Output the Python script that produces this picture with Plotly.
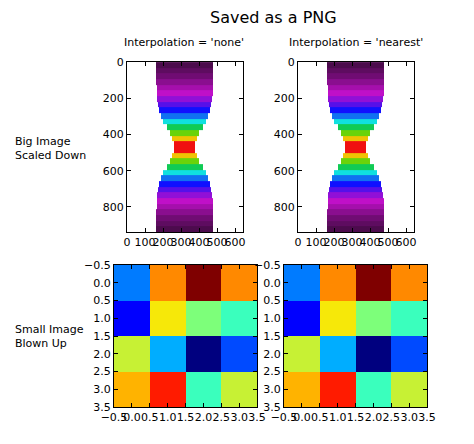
import plotly.graph_objs as go

# Big image: one value and half-width per horizontal band
band_y = [16, 47, 78, 110, 141, 172, 203, 235, 266, 297, 329, 360, 391, 423, 454,
          485, 517, 548, 579, 611, 642, 673, 705, 736, 767, 798, 830, 861, 892, 924]
band_val = [0.02, 0.04, 0.06, 0.09, 0.12, 0.15, 0.19, 0.24, 0.30, 0.37, 0.45, 0.55, 0.66, 0.78, 0.90,
            0.90, 0.78, 0.66, 0.55, 0.45, 0.37, 0.30, 0.24, 0.19, 0.15, 0.12, 0.09, 0.06, 0.04, 0.02]
band_half = [161, 161, 160, 159, 157, 155, 152, 147, 140, 132, 119, 100, 80, 66, 60,
             60, 66, 80, 100, 119, 132, 140, 147, 152, 155, 157, 159, 160, 161, 161]
center_x = 320
col_x = list(range(2, 644, 4))

# Small 4x4 image values (jet colormap)
small_im = [[0.25, 0.75, 1.00, 0.75],
            [0.12, 0.63, 0.50, 0.40],
            [0.58, 0.30, 0.00, 0.20],
            [0.70, 0.88, 0.40, 0.58]]

big_z = []
for v, h in zip(band_val, band_half):
    big_z.append([v if abs(x - center_x) <= h else None for x in col_x])

big_scale = [[0, '#3a0a3a'], [0.15, '#c010c8'], [0.3, '#1010ff'], [0.45, '#10e0e0'],
             [0.6, '#10c010'], [0.75, '#f0f000'], [0.9, '#f01010'], [1, '#f04040']]
jet = [[0, '#00007f'], [0.11, '#0000ff'], [0.125, '#0000ff'], [0.34, '#00d4ff'],
       [0.375, '#29ffce'], [0.5, '#7dff7a'], [0.64, '#ffe600'], [0.89, '#ff1300'], [1, '#7f0000']]

W, H = 474, 444
OFF = 8  # page body margin in the browser
def dx(a, b):
    return [(a - OFF) / W, (b - OFF) / W]
def dy(a, b):
    return [1 - (b - OFF) / H, 1 - (a - OFF) / H]

fig = go.Figure()
fig.add_trace(go.Heatmap(z=big_z, x=col_x, y=band_y, colorscale=big_scale, zmin=0, zmax=1,
                         showscale=False, xaxis='x', yaxis='y'))
fig.add_trace(go.Heatmap(z=big_z, x=col_x, y=band_y, colorscale=big_scale, zmin=0, zmax=1,
                         showscale=False, xaxis='x2', yaxis='y2'))
for xa, ya in [('x3', 'y3'), ('x4', 'y4')]:
    fig.add_trace(go.Heatmap(z=small_im, x=[0, 1, 2, 3], y=[0, 1, 2, 3], colorscale=jet,
                             zmin=0, zmax=1, showscale=False, xaxis=xa, yaxis=ya))

font = dict(family='DejaVu Sans', size=11, color='black')
ax = dict(showline=True, mirror='ticks', linecolor='black', linewidth=1, ticks='inside',
          ticklen=4, tickcolor='black', showgrid=False, zeroline=False, tickfont=font,
          tickangle=0, automargin=False)
lbl = ['−0.5', '0.0', '0.5', '1.0', '1.5', '2.0', '2.5', '3.0', '3.5']
big_x = dict(ax, range=[0, 644], tickvals=[0, 100, 200, 300, 400, 500, 600],
             ticktext=['0', '100', '200', '300', '400', '500', '600'])
big_y = dict(ax, range=[938, 0], tickvals=[0, 200, 400, 600, 800])
small_t = [-0.5, 0, 0.5, 1, 1.5, 2, 2.5, 3, 3.5]
small_x = dict(ax, range=[-0.5, 3.5], tickvals=small_t, ticktext=lbl)
small_y = dict(ax, range=[3.5, -0.5], tickvals=small_t, ticktext=lbl)

def note(text, x, y, size=11, anchor='center'):
    return dict(text=text, x=(x - OFF) / W, y=1 - (y - OFF) / H, xref='paper', yref='paper',
                showarrow=False, xanchor=anchor, yanchor='middle', align='left',
                font=dict(family='DejaVu Sans', size=size, color='black'))

fig.update_layout(
    width=W, height=H, margin=dict(l=0, r=0, t=0, b=0, autoexpand=False),
    paper_bgcolor='white', plot_bgcolor='white', showlegend=False,
    xaxis=dict(big_x, domain=dx(127, 243), anchor='y'),
    yaxis=dict(big_y, domain=dy(62, 232), anchor='x'),
    xaxis2=dict(big_x, domain=dx(298, 414), anchor='y2'),
    yaxis2=dict(big_y, domain=dy(62, 232), anchor='x2'),
    xaxis3=dict(small_x, domain=dx(114, 257), anchor='y3'),
    yaxis3=dict(small_y, domain=dy(265, 407), anchor='x3'),
    xaxis4=dict(small_x, domain=dx(284, 427), anchor='y4'),
    yaxis4=dict(small_y, domain=dy(265, 407), anchor='x4'),
    annotations=[
        note('Saved as a PNG', 273, 17, size=16),
        note("Interpolation = 'none'", 184, 42),
        note("Interpolation = 'nearest'", 356, 42),
        note('Big Image<br>Scaled Down', 13, 148, anchor='left'),
        note('Small Image<br>Blown Up', 13, 336, anchor='left'),
    ],
)

fig.write_html("out.html")
